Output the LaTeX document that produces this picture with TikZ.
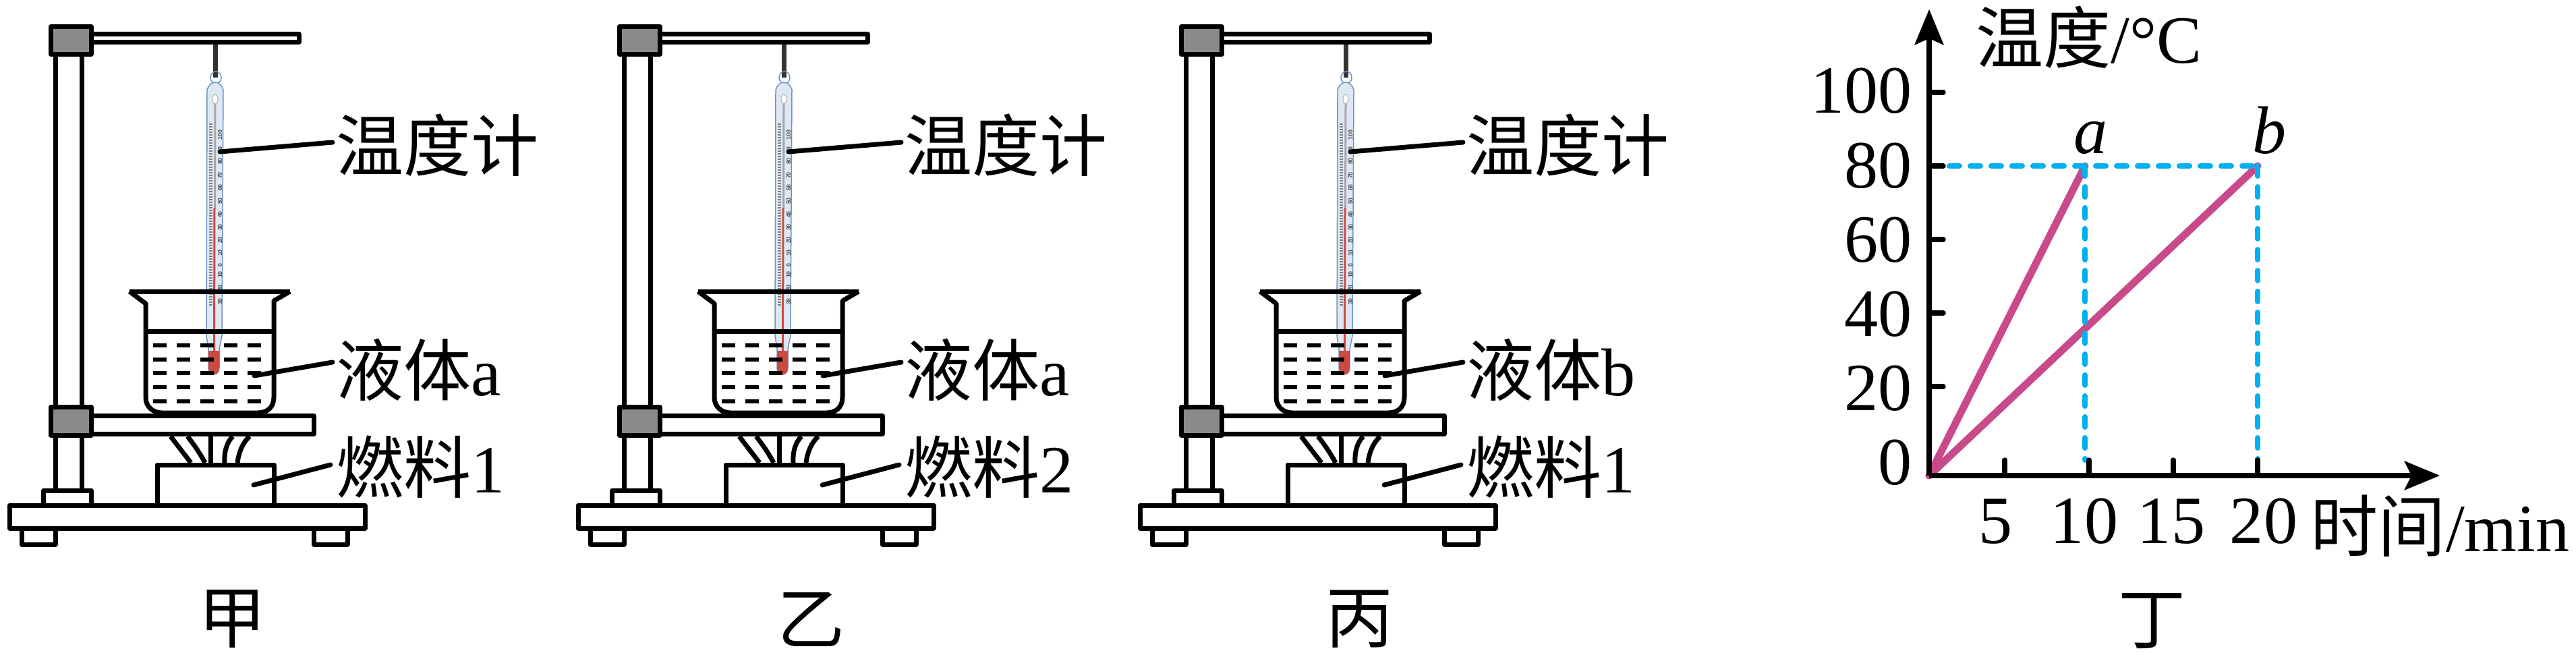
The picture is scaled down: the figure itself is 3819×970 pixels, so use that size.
\documentclass[tikz,border=0pt]{standalone}
\usepackage{fontspec}
\setmainfont{Liberation Serif}
\newfontfamily\cjk{Noto Sans CJK SC}
\newfontfamily\scalefont{Liberation Sans}[Scale=1]
\usetikzlibrary{arrows.meta}
\newlength{\pxu}\setlength{\pxu}{0.02cm}
\definecolor{clampgray}{HTML}{8A8A8A}
\definecolor{tubefill}{HTML}{DDE8F4}
\definecolor{tubeedge}{HTML}{6F94C2}
\definecolor{mercury}{HTML}{CC4A40}
\definecolor{curvepink}{HTML}{C94A8A}
\definecolor{guidecyan}{HTML}{00B0F0}
\tikzset{
  ink/.style={draw=black,line width=7\pxu,line join=round},
  clampbox/.style={ink,fill=clampgray},
  leader/.style={draw=black,line width=7\pxu,line cap=round},
  liquid/.style={draw=black,line width=6\pxu},
  label/.style={inner sep=0pt,font=\fontsize{57}{62}\selectfont},
  tiny/.style={inner sep=0pt,rotate=90,text=black!70,font=\scalefont\bfseries\fontsize{5}{6}\selectfont},
  axisline/.style={draw=black,line width=8\pxu},
  tickline/.style={draw=black,line width=7.5\pxu,line cap=round},
  curve/.style={draw=curvepink,line width=11\pxu,line cap=round},
  guide/.style={draw=guidecyan,line width=8\pxu,line cap=round,dash pattern=on 15\pxu off 16\pxu},
}
\newcommand{\rig}[5]{% suffix, shift, liquid label, fuel label, caption
\begin{scope}[xshift=#2*0.02cm]
  % base and feet
  \draw[ink] (32,783) rectangle (82,807);
  \draw[ink] (465,783) rectangle (515,807);
  \draw[ink] (64.5,727) rectangle (135,749);
  \draw[ink,fill=white] (233,749) -- (233,689) -- (406,689) -- (406,749);
  \draw[ink,fill=white] (14,749) rectangle (541,783);
  % post
  \draw[ink] (82,80) -- (82,727);
  \draw[ink] (121,80) -- (121,727);
  % top rod
  \draw[ink] (135,50.5) -- (443,50.5) -- (443,62) -- (135,62);
  % platform
  \draw[ink] (135,616) -- (465,616) -- (465,643) -- (135,643);
  \draw[clampbox] (75,39.5) rectangle (135,80.5);
  \draw[clampbox] (75,603.5) rectangle (135,645);
  % flames
  \draw[ink] (253,647) -- (283,686);
  \draw[ink] (278,647) .. controls (290,662) and (298,675) .. (304,686);
  \draw[ink] (312,647) -- (312,686);
  \draw[ink] (345,647) .. controls (336,656) and (332,670) .. (333,686);
  \draw[ink] (370,647) .. controls (360,656) and (354,670) .. (352,686);
  % thermometer
  \draw[line width=7\pxu,draw=black!80] (319.5,66) -- (319.5,115);
  \draw[tubeedge,line width=1.5\pxu] (320,115) ellipse (8 and 9);
  \draw[draw=tubeedge,fill=tubefill,line width=1.5\pxu]
    (307,133) .. controls (309,127) and (313,122) .. (319,122) .. controls (325,122) and (329,127) .. (331,133)
    -- (329,498) -- (325,517) -- (325,545)
    .. controls (325,552) and (321,555) .. (317,555)
    .. controls (312,555) and (309,552) .. (309,545) -- (309,517) -- (306,498) -- cycle;
  \draw[draw=gray!60,fill=white,line width=1\pxu] (319,147) ellipse (4 and 7);
  \draw[draw=gray!70,line width=3\pxu] (319,154) -- (318.5,308);
  \draw[draw=mercury,line width=3\pxu] (318,308) -- (317.5,520);
  \fill[mercury] (309,520) -- (325,520) -- (325,545)
    .. controls (325,552) and (321,555) .. (317,555)
    .. controls (312,555) and (309,552) .. (309,545) -- cycle;
  \foreach \ty in {184,188,...,452} {\draw[draw=gray,line width=1.6\pxu] (310,\ty) -- (315,\ty);}
  \foreach \tv/\ty in {100/200,90/222,80/239,70/260,60/278,50/298,40/318,30/337,20/356,10/375,0/393,10/407,20/427,30/447}
    {\node[tiny] (sc#1\ty) at (326,\ty) {\tv};}
  % beaker
  \draw[ink] (192,432) -- (430,432);
  \draw[ink] (192,432) -- (216,450) -- (216,589) .. controls (216,604) and (228,612) .. (240,612)
     -- (382,612) .. controls (396,612) and (406,604) .. (406,589) -- (406,446) -- (430,432);
  \draw[ink] (216,491) -- (406,491);
  \foreach \ry in {512,533,553,574,595}
    \foreach \dx in {227,262,297,332,367}
      {\draw[liquid] (\dx,\ry) -- ++(20,0);}
  % labels
  \node[label,anchor=base west] (thermo#1) at (498,253) {\cjk 温度计};
  \node[label,anchor=base west] (liq#1) at (498,586) {#3};
  \node[label,anchor=base west] (fuel#1) at (498,730) {#4};
  \coordinate (thermoEnd#1) at (326,225);
  \coordinate (thermoStart#1) at (493,211);
  \coordinate (liqEnd#1) at (377,557);
  \coordinate (liqStart#1) at (493,537);
  \coordinate (fuelEnd#1) at (376,719);
  \coordinate (fuelStart#1) at (490,689);
  \draw[leader] (thermoStart#1) -- (thermoEnd#1);
  \draw[leader] (liqStart#1) -- (liqEnd#1);
  \draw[leader] (fuelStart#1) -- (fuelEnd#1);
\end{scope}
}
\begin{document}
\begin{tikzpicture}[x=0.02cm,y=-0.02cm]
\useasboundingbox (0,0) rectangle (3819,970);
\rig{A}{0}{{\cjk 液体}a}{{\cjk 燃料}1}{}
\rig{B}{843}{{\cjk 液体}a}{{\cjk 燃料}2}{}
\rig{C}{1676}{{\cjk 液体}b}{{\cjk 燃料}1}{}
\node[label] (capA) at (345,918) {\cjk 甲};
\node[label] (capB) at (1203,918) {\cjk 乙};
\node[label] (capC) at (2016,918) {\cjk 丙};
\node[label] (capD) at (3191,921) {\cjk 丁};
% chart
\coordinate (O) at (2860,705);
\coordinate (ytop) at (2860,30);
\coordinate (xend) at (3600,705);
\coordinate (pa) at (3091,246);
\coordinate (pb) at (3347,246);
\coordinate (y80) at (2890,246);
\coordinate (fa) at (3091,682);
\coordinate (fb) at (3347,682);
\draw[curve] (O) -- (pa);
\draw[curve] (O) -- (pb);
\draw[guide] (y80) -- (pb);
\draw[guide] (pa) -- (fa);
\draw[guide] (pb) -- (fb);
\foreach \ty in {137,246,355,464,573} {\draw[tickline] (2860,\ty) -- (2881,\ty);}
\foreach \tx in {2972,3097,3222,3347} {\draw[tickline] (\tx,682) -- (\tx,705);}
\draw[axisline] (O) -- (xend);
\draw[axisline] (O) -- (ytop);
\fill (3617,705) -- (3564,683) -- (3575,705) -- (3564,727) -- cycle;
\fill (2860,14) -- (2838,67) -- (2860,57) -- (2882,67) -- cycle;
\foreach \tv/\ty in {100/167,80/278,60/388,40/498,20/608,0/718}
  {\node[label,anchor=base east] (yl\tv) at (2835,\ty) {\tv};}
\node[label,anchor=base] (xl5) at (2958,805) {5};
\node[label,anchor=base] (xl10) at (3090,805) {10};
\node[label,anchor=base] (xl15) at (3219,805) {15};
\node[label,anchor=base] (xl20) at (3356,805) {20};
\node[label,anchor=base east] (xt) at (3810,817) {{\cjk 时间}/min};
\node[label,anchor=base west] (yt) at (2929,93) {{\cjk 温度}/°C};
\node[label,anchor=base] (la) at (3099,227) {\itshape a};
\node[label,anchor=base] (lb) at (3364,227) {\itshape b};
\end{tikzpicture}
\end{document}
